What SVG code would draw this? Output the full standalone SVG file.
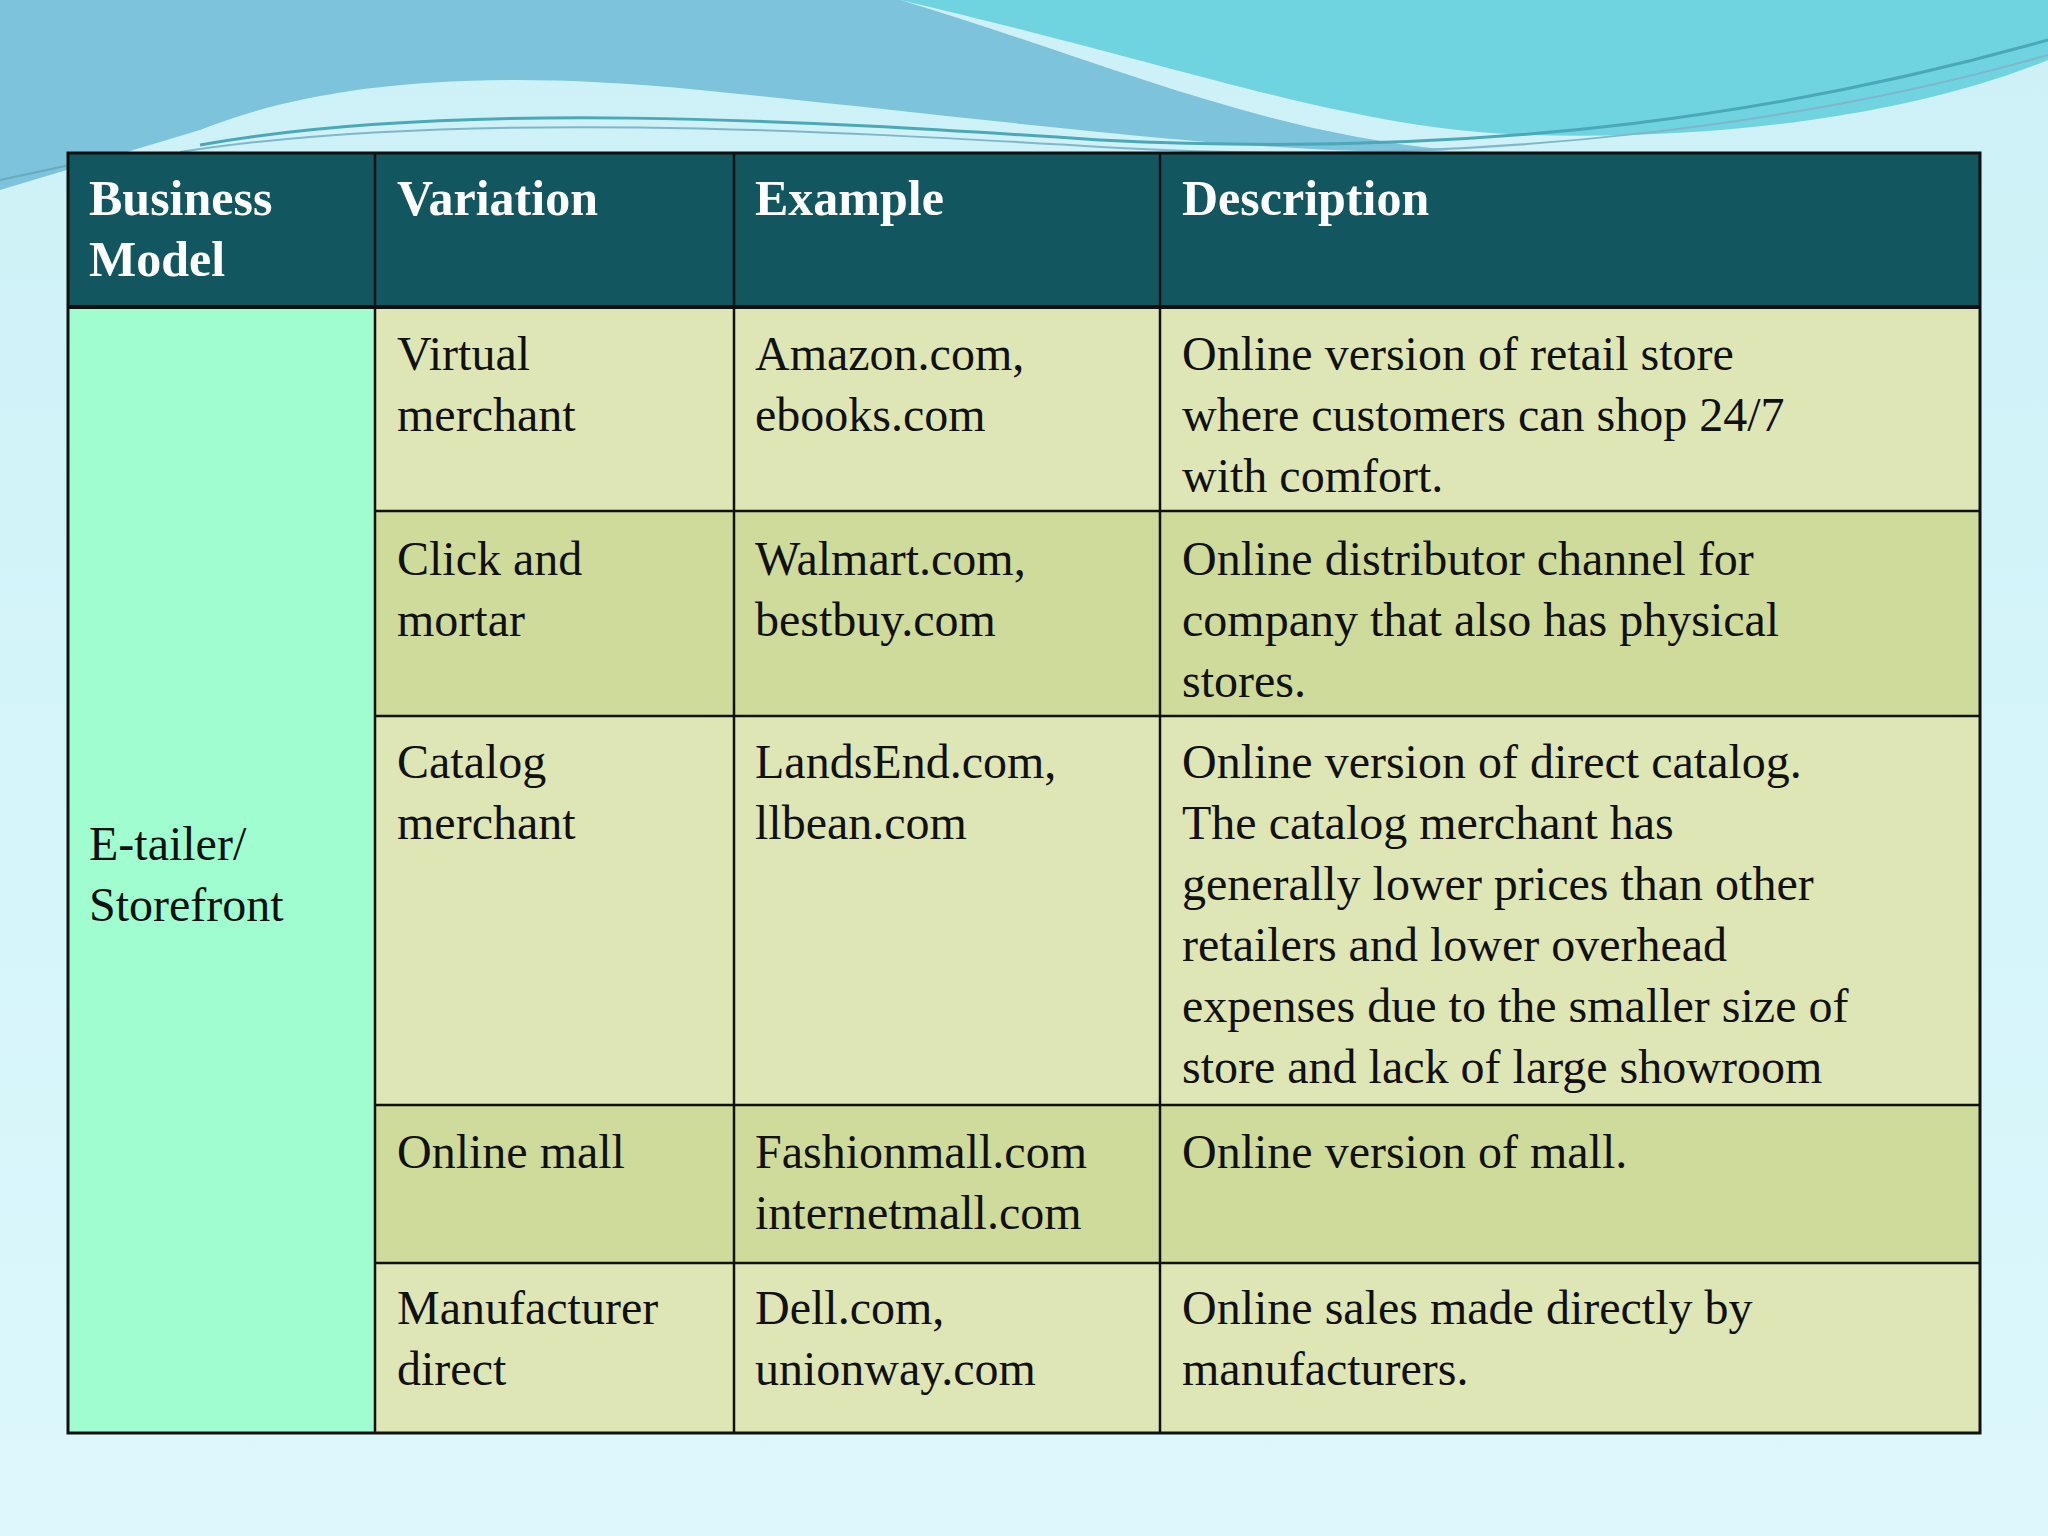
<svg xmlns="http://www.w3.org/2000/svg" width="2048" height="1536" viewBox="0 0 2048 1536">
<defs>
<style>
.t{font-family:"Liberation Serif","DejaVu Serif",serif;font-size:48px;fill:#111}
.h{font-family:"Liberation Serif","DejaVu Serif",serif;font-size:50px;font-weight:bold;fill:#fff}
.g{stroke:#111;stroke-width:2.5;fill:none}
</style>
<linearGradient id="bg" x1="0" y1="0" x2="0" y2="1"><stop offset="0" stop-color="#cdf1f7"/><stop offset="1" stop-color="#dcf8fc"/></linearGradient>
</defs>
<rect width="2048" height="1536" fill="url(#bg)"/>
<g id="waves">
<path d="M0 0H2048V60C1900 120 1700 140 1530 135C1350 130 1200 70 900 0Z" fill="#6fd3e0"/>
<path d="M0 0H900C1100 60 1250 130 1450 150C1300 160 1000 120 700 90C450 65 300 90 200 130L0 190Z" fill="#7cc3db"/>
<path d="M200 145C450 100 800 120 1100 140C1500 160 1800 110 2048 40" stroke="#4aa8b8" stroke-width="3" fill="none"/>
<path d="M180 152C450 110 820 130 1120 148C1500 168 1820 120 2048 55" stroke="#7fb6c9" stroke-width="2" fill="none"/>
<path d="M0 180L70 165" stroke="#6aaabd" stroke-width="2"/>
</g>
<g id="cells">
<rect x="68" y="153" width="1912" height="154" fill="#12565f"/>
<rect x="68" y="307" width="307" height="1126" fill="#a0fdd0"/>
<rect x="375" y="307" width="1605" height="204" fill="#dfe6b6"/>
<rect x="375" y="511" width="1605" height="205" fill="#cfdb9a"/>
<rect x="375" y="716" width="1605" height="389" fill="#dfe6b6"/>
<rect x="375" y="1105" width="1605" height="158" fill="#cfdb9a"/>
<rect x="375" y="1263" width="1605" height="170" fill="#dfe6b6"/>
</g>
<g id="grid" class="g">
<rect x="68" y="153" width="1912" height="1280" stroke-width="3"/>
<line x1="68" y1="307" x2="1980" y2="307" stroke-width="4"/>
<line x1="375" y1="511" x2="1980" y2="511"/>
<line x1="375" y1="716" x2="1980" y2="716"/>
<line x1="375" y1="1105" x2="1980" y2="1105"/>
<line x1="375" y1="1263" x2="1980" y2="1263"/>
<line x1="375" y1="153" x2="375" y2="1433"/>
<line x1="734" y1="153" x2="734" y2="1433"/>
<line x1="1160" y1="153" x2="1160" y2="1433"/>
</g>
<g id="header">
<text class="h" x="89" y="215">Business</text><text class="h" x="89" y="276">Model</text>
<text class="h" x="397" y="215">Variation</text>
<text class="h" x="755" y="215">Example</text>
<text class="h" x="1182" y="215">Description</text>
</g>
<g id="col1"><text class="t" x="89" y="860">E-tailer/</text><text class="t" x="89" y="921">Storefront</text></g>
<g id="row1">
<text class="t" x="397" y="370">Virtual</text><text class="t" x="397" y="431">merchant</text>
<text class="t" x="755" y="370">Amazon.com,</text><text class="t" x="755" y="431">ebooks.com</text>
<text class="t" x="1182" y="370">Online version of retail store</text><text class="t" x="1182" y="431">where customers can shop 24/7</text><text class="t" x="1182" y="492">with comfort.</text>
</g>
<g id="row2">
<text class="t" x="397" y="575">Click and</text><text class="t" x="397" y="636">mortar</text>
<text class="t" x="755" y="575">Walmart.com,</text><text class="t" x="755" y="636">bestbuy.com</text>
<text class="t" x="1182" y="575">Online distributor  channel for</text><text class="t" x="1182" y="636">company that also has physical</text><text class="t" x="1182" y="697">stores.</text>
</g>
<g id="row3">
<text class="t" x="397" y="778">Catalog</text><text class="t" x="397" y="839">merchant</text>
<text class="t" x="755" y="778">LandsEnd.com,</text><text class="t" x="755" y="839">llbean.com</text>
<text class="t" x="1182" y="778">Online version of direct catalog.</text>
<text class="t" x="1182" y="839">The catalog merchant has</text>
<text class="t" x="1182" y="900">generally lower prices than other</text>
<text class="t" x="1182" y="961">retailers and lower overhead</text>
<text class="t" x="1182" y="1022">expenses due to the smaller size of</text>
<text class="t" x="1182" y="1083">store and lack of large showroom</text>
</g>
<g id="row4">
<text class="t" x="397" y="1168">Online mall</text>
<text class="t" x="755" y="1168">Fashionmall.com</text><text class="t" x="755" y="1229">internetmall.com</text>
<text class="t" x="1182" y="1168">Online version of mall.</text>
</g>
<g id="row5">
<text class="t" x="397" y="1324">Manufacturer</text><text class="t" x="397" y="1385">direct</text>
<text class="t" x="755" y="1324">Dell.com,</text><text class="t" x="755" y="1385">unionway.com</text>
<text class="t" x="1182" y="1324">Online sales made directly by</text><text class="t" x="1182" y="1385">manufacturers.</text>
</g>
</svg>
